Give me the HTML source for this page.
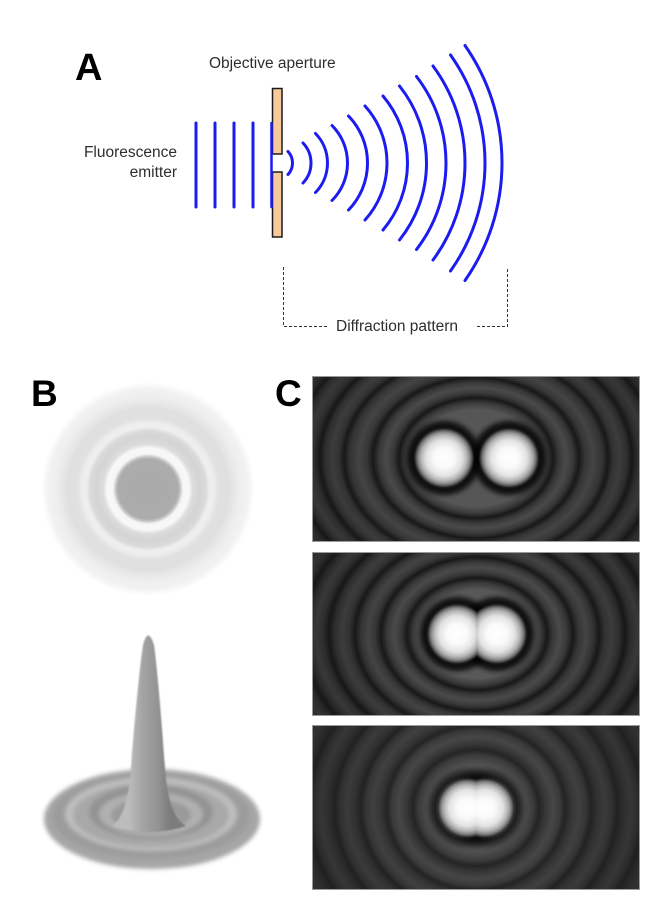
<!DOCTYPE html>
<html><head><meta charset="utf-8">
<style>
html,body{margin:0;padding:0;background:#fff;}
body{width:649px;height:900px;position:relative;overflow:hidden;font-family:"Liberation Sans",sans-serif;}
.lbl{position:absolute;font-weight:bold;color:#000;font-size:38px;line-height:1;z-index:5;}
.box{position:absolute;left:312px;width:328px;box-sizing:border-box;border:1px solid #9a9a9a;
--core: #ffffff 0px,#fafafa 10px,#e2e2e2 18px,#b4b4b4 23px,#848484 26px,#505050 28px,#000000 30.5px;
--ring: #ffffff 0px,#ffffff 24px,#b0b0b0 27px,#444444 30px,#2a2a2a 32px,#5a5a5a 35px,#d8d8d8 39px,#ffffff 42px;
--ring2: #ffffff 0px,#ffffff 25px,#a8a8a8 29px,#5e5e5e 32px,#8a8a8a 35px,#e0e0e0 40px,#ffffff 43px;
background-blend-mode:lighten,lighten,multiply,multiply,normal;}
</style></head>
<body>

<svg width="649" height="900" style="position:absolute;left:0;top:0" xmlns="http://www.w3.org/2000/svg">
  <defs>
    <linearGradient id="spk" x1="128" y1="0" x2="170" y2="0" gradientUnits="userSpaceOnUse">
      <stop offset="0" stop-color="#bdbdbd"/>
      <stop offset="0.35" stop-color="#a4a4a4"/>
      <stop offset="0.7" stop-color="#939393"/>
      <stop offset="1" stop-color="#7c7c7c"/>
    </linearGradient>
    <filter id="bl" x="-10%" y="-10%" width="120%" height="120%"><feGaussianBlur stdDeviation="2.2"/></filter>
    <filter id="bl2" x="-10%" y="-10%" width="120%" height="120%"><feGaussianBlur stdDeviation="0.8"/></filter>
  </defs>

  <!-- Panel A text -->
  <text x="209" y="68" font-family="Liberation Sans, sans-serif" font-size="15.5" fill="#2e2e2e">Objective aperture</text>
  <text x="177" y="157" text-anchor="end" font-family="Liberation Sans, sans-serif" font-size="15.5" fill="#2e2e2e">Fluorescence</text>
  <text x="177" y="177" text-anchor="end" font-family="Liberation Sans, sans-serif" font-size="15.5" fill="#2e2e2e">emitter</text>
  <text x="336" y="331" font-family="Liberation Sans, sans-serif" font-size="15.5" fill="#2e2e2e">Diffraction pattern</text>

  <!-- dashed bracket -->
  <g stroke="#333" stroke-width="1" stroke-dasharray="3,2" fill="none">
    <path d="M283.5,267 V326.5 H328"/>
    <path d="M477,326.5 H507.5 V267"/>
  </g>

  <!-- plane waves -->
  <g stroke="#1c1cf0" stroke-width="3" stroke-linecap="round">
    <line x1="196" y1="123" x2="196" y2="207"/>
    <line x1="215" y1="123" x2="215" y2="207"/>
    <line x1="234" y1="123" x2="234" y2="207"/>
    <line x1="253" y1="123" x2="253" y2="207"/>
  </g>

  <!-- aperture -->
  <g fill="#f8c99b" stroke="#1a1a1a" stroke-width="1.5">
    <rect x="272.5" y="88.5" width="9.5" height="65.5"/>
    <rect x="272.5" y="172" width="9.5" height="65"/>
  </g>
  <line x1="271.5" y1="123" x2="271.5" y2="207" stroke="#1c1cf0" stroke-width="2.5" stroke-linecap="round"/>

  <!-- diffracted arcs -->
  <g stroke="#1c1cf0" stroke-width="3" fill="none" stroke-linecap="round">
    <path d="M288,151.5 A16.9,16.9 0 0 1 288,174.5"/>
    <path d="M303,143 A29,29 0 0 1 303,183"/>
    <path d="M315.5,133.5 A42.3,42.3 0 0 1 315.5,192.5"/>
    <path d="M332,125.5 A53.1,53.1 0 0 1 332,200.5"/>
    <path d="M348.5,116 A67.6,67.6 0 0 1 348.5,210"/>
    <path d="M365,106 A84.8,84.8 0 0 1 365,220"/>
    <path d="M383,96 A103.9,103.9 0 0 1 383,230"/>
    <path d="M399.5,86 A123.3,123.3 0 0 1 399.5,240"/>
    <path d="M416.5,76.5 A141.6,141.6 0 0 1 416.5,249.5"/>
    <path d="M433,66 A163,163 0 0 1 433,260"/>
    <path d="M450.5,55 A186.3,186.3 0 0 1 450.5,271"/>
    <path d="M465,45.5 A205.1,205.1 0 0 1 465,280.5"/>
  </g>

  <!-- Panel B bottom: 3D Airy -->
  <g filter="url(#bl)">
    <ellipse cx="152" cy="819" rx="108" ry="50" fill="#a6a6a6"/>
    <ellipse cx="151" cy="816" rx="99" ry="43" fill="#9c9c9c"/>
    <ellipse cx="151" cy="814" rx="86" ry="37" fill="#bebebe"/>
    <ellipse cx="151" cy="815" rx="78" ry="32" fill="#a8a8a8"/>
    <ellipse cx="151" cy="812" rx="62" ry="27" fill="#939393"/>
    <ellipse cx="151" cy="814" rx="52" ry="22" fill="#b0b0b0"/>
    <ellipse cx="151" cy="815" rx="40" ry="16" fill="#9a9a9a"/>
  </g>
  <path filter="url(#bl2)" fill="url(#spk)" d="M112,826 C124,818 129,795 131,768 C134,725 140,665 143,645 Q148,626 154,645 C157,665 162,725 165,768 C167,795 172,818 186,826 Q150,838 112,826 Z"/>
</svg>

<!-- Panel B top: rings -->
<div style="position:absolute;left:40px;top:380px;width:220px;height:220px;
background:radial-gradient(circle at 108px 109px,#a9a9a9 0px,#acacac 30px,#c8c8c8 32.5px,#f6f6f6 35px,#f8f8f8 41px,#dcdcdc 45px,#d4d4d4 52px,#dadada 58px,#efefef 62px,#ededed 66px,#e1e1e1 71px,#dfdfdf 80px,#e8e8e8 87px,#eeeeee 92px,#f2f2f2 100px,#fafafa 104px,#ffffff 107px);"></div>

<div class="lbl" style="left:75px;top:49px;">A</div>
<div class="lbl" style="left:31px;top:375px;font-size:37px;">B</div>
<div class="lbl" style="left:275px;top:375px;font-size:37px;">C</div>

<!-- Panel C -->
<div class="box" style="top:376px;height:166px;
background-image:
radial-gradient(circle at 131px 81px,var(--core)),
radial-gradient(circle at 196px 81px,var(--core)),
radial-gradient(circle at 131px 81px,var(--ring)),
radial-gradient(circle at 196px 81px,var(--ring)),
radial-gradient(ellipse 100px 78px at 163px 81px,#565656 0px,#565656 62px,#3a3a3a 71px,#181818 77px,#383838 83px,#4a4a4a 90px,#383838 97px,#181818 103px,#363636 109px,#444444 117px,#343434 126px,#181818 132px,#323232 137px,#3c3c3c 144px,#2e2e2e 151px,#171717 156px,#2e2e2e 162px,#383838 169px,#2a2a2a 176px,#171717 181px,#2a2a2a 187px,#333333 195px,#262626 202px,#171717 207px,#282828 214px,#2e2e2e 222px,#222222 232px,#181818 236px,#262626 244px,#2a2a2a 260px);"></div>

<div class="box" style="top:552px;height:164px;
background-image:
radial-gradient(circle at 144px 81px,var(--core)),
radial-gradient(circle at 184px 81px,var(--core)),
radial-gradient(circle at 144px 81px,var(--ring)),
radial-gradient(circle at 184px 81px,var(--ring)),
radial-gradient(ellipse 100px 80px at 164px 81px,#585858 0px,#585858 55px,#3a3a3a 64px,#181818 70px,#383838 76px,#4a4a4a 83px,#383838 90px,#181818 96px,#363636 102px,#444444 109px,#343434 116px,#181818 122px,#323232 128px,#3c3c3c 135px,#2e2e2e 142px,#171717 148px,#2e2e2e 154px,#383838 161px,#2a2a2a 168px,#171717 174px,#2a2a2a 180px,#333333 187px,#262626 194px,#171717 200px,#282828 207px,#2e2e2e 214px,#222222 221px,#181818 226px,#262626 234px,#2a2a2a 250px);"></div>

<div class="box" style="top:725px;height:165px;
background-image:
radial-gradient(circle at 154px 82px,var(--core)),
radial-gradient(circle at 172px 82px,var(--core)),
radial-gradient(circle at 154px 82px,var(--ring2)),
radial-gradient(circle at 172px 82px,var(--ring2)),
radial-gradient(ellipse 100px 92px at 163px 82px,#505050 0px,#505050 48px,#3c3c3c 57px,#242424 63px,#383838 70px,#464646 77px,#3a3a3a 84px,#242424 89px,#363636 96px,#404040 103px,#353535 110px,#222222 115px,#323232 122px,#3a3a3a 129px,#303030 136px,#212121 141px,#2e2e2e 148px,#363636 155px,#2c2c2c 162px,#202020 167px,#2a2a2a 174px,#323232 181px,#282828 188px,#1e1e1e 193px,#282828 200px,#2e2e2e 208px,#242424 215px,#1e1e1e 219px,#262626 228px,#2a2a2a 250px);"></div>

</body></html>
